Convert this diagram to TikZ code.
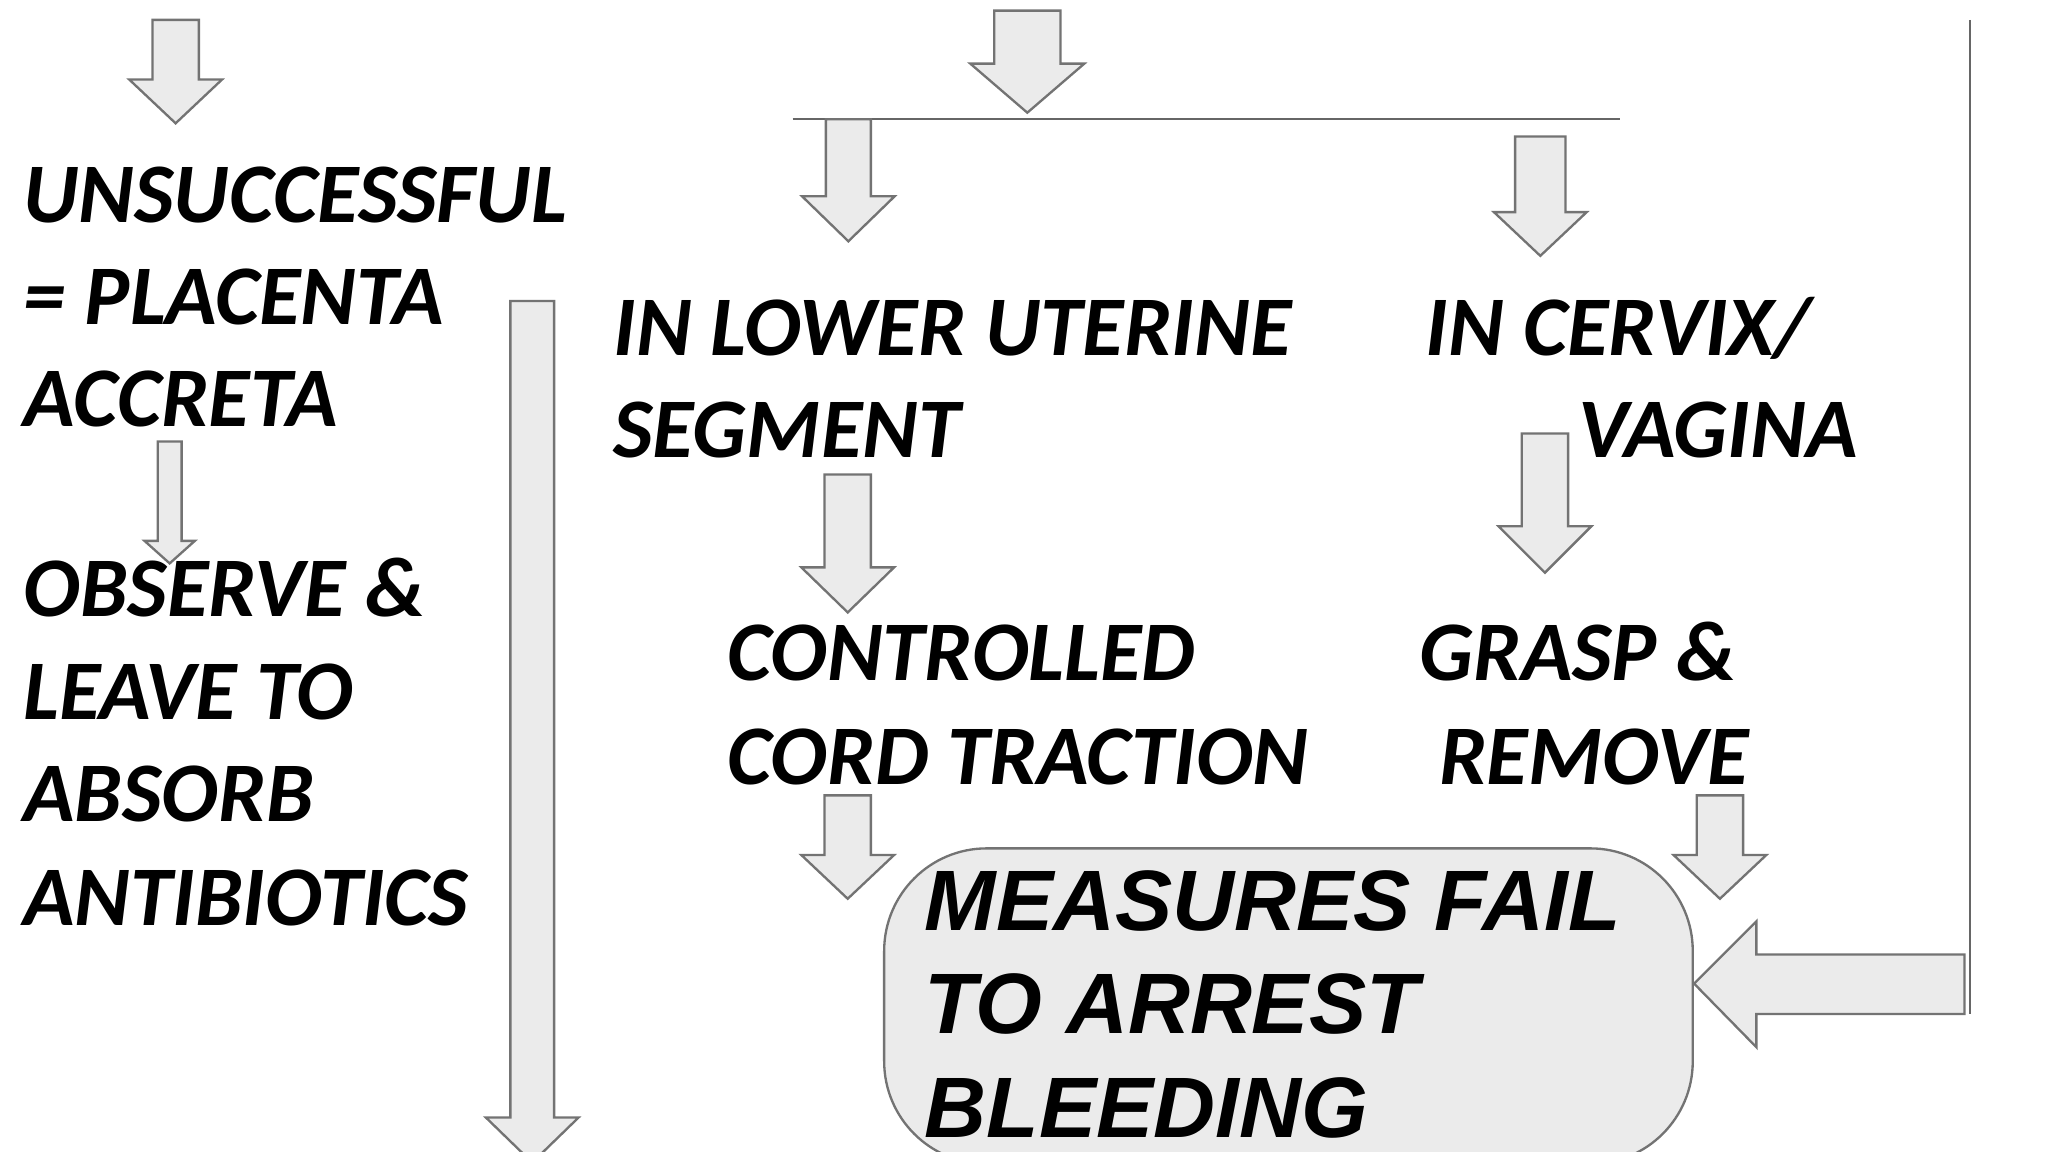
\documentclass[tikz,border=0pt]{standalone}
\usepackage{fontspec}
\setmainfont{Carlito}
\newfontfamily\boxfont{Liberation Sans}
\newcommand{\myDarr}[6]{% shaft left, shaft right, top, head y, head half width, tip y
  \pgfmathsetmacro{\cx}{(#1+#2)/2}
  \draw[arr] (#1,#3) -- (#2,#3) -- (#2,#4) -- (\cx+#5,#4) -- (\cx,#6) -- (\cx-#5,#4) -- (#1,#4) -- cycle;}
\begin{document}
\begin{tikzpicture}[x=0.01cm,y=-0.01cm,
  arr/.style={fill=black!8,draw=black!55,line width=0.5pt},
  txt/.style={anchor=base west,inner sep=0pt,font=\fontsize{18.2}{21}\selectfont\bfseries\itshape},
  bigtxt/.style={anchor=base west,inner sep=0pt,font=\boxfont\fontsize{18.4}{21}\selectfont\bfseries\itshape}]
\useasboundingbox (0,0) rectangle (1545,869);
\myDarr{115}{150}{15}{60}{35}{93}
\myDarr{750}{800}{8}{48}{43}{85}
\draw[black!60] (598,90) -- (1222,90);
\myDarr{623}{657}{90}{148}{35}{182}
\myDarr{1143}{1181}{103}{160}{35}{193}
\myDarr{385}{418}{227}{843}{35}{877}
\myDarr{119}{137}{333}{408}{19}{425}
\myDarr{622}{657}{358}{428}{35}{462}
\myDarr{1148}{1183}{327}{397}{35}{432}
\myDarr{622}{657}{600}{645}{35}{678}
\myDarr{1280}{1315}{600}{645}{35}{678}
\draw[black!60] (1486,15) -- (1486,765);
\draw[arr,rounded corners=22] (667,640) rectangle (1277,878);
\draw[arr] (1482,720) -- (1325,720) -- (1325,695) -- (1278,742) -- (1325,790) -- (1325,765) -- (1482,765) -- cycle;
\node[txt] (t1a) at (17,168) {UNSUCCESSFUL};
\node[txt] (t1b) at (17,245) {= PLACENTA};
\node[txt] (t1c) at (17,322) {ACCRETA};
\node[txt] (t2a) at (17,465) {OBSERVE \&};
\node[txt] (t2b) at (17,543) {LEAVE TO};
\node[txt] (t2c) at (17,620) {ABSORB};
\node[txt] (t2d) at (17,698) {ANTIBIOTICS};
\node[txt] (t3a) at (462,268) {IN LOWER UTERINE};
\node[txt] (t3b) at (462,345) {SEGMENT};
\node[txt] (t4) at (1075,268) {IN CERVIX/};
\node[txt] (t5) at (1190,345) {VAGINA};
\node[txt] (t6a) at (548,513) {CONTROLLED};
\node[txt] (t6b) at (548,592) {CORD TRACTION};
\node[txt] (t7) at (1070,513) {GRASP \&};
\node[txt] (t8) at (1085,592) {REMOVE};
\node[bigtxt] (t9a) at (697,702) {MEASURES FAIL};
\node[bigtxt] (t9b) at (697,780) {TO ARREST};
\node[bigtxt] (t9c) at (697,858) {BLEEDING};
\end{tikzpicture}
\end{document}
